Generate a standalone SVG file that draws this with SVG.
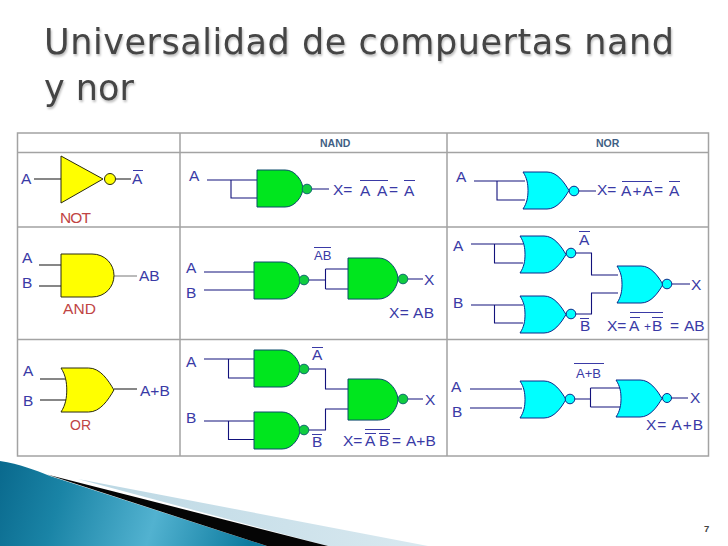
<svg xmlns="http://www.w3.org/2000/svg" width="728" height="546" viewBox="0 0 728 546">
<style>
text{font-family:"Liberation Sans",Arial,sans-serif}
.title{font-family:"DejaVu Sans",Verdana,sans-serif;font-size:35px;fill:#454545;filter:drop-shadow(1px 2px 1px #bbbbbb)}
.t{font-size:15.5px;fill:#3a3aa6}
.s{font-size:13px}
.r{font-size:15.5px;fill:#c04444}
.h{font-size:10.5px;font-weight:bold;fill:#3f5f85}
.pg{font-size:9.5px;font-weight:bold;fill:#444}
.grid{fill:none;stroke:#a3a3a3;stroke-width:1.5}
.w{fill:none;stroke:#12127c;stroke-width:1.1}
.k{fill:none;stroke:#111;stroke-width:1.1}
.bar{stroke:#3a3aa6;stroke-width:1;fill:none}
.yellow{fill:#ffff00;stroke:#2a2a10;stroke-width:1}
.green{fill:#00e61e;stroke:#0b4a6a;stroke-width:1}
.bgreen{fill:#10cc40;stroke:#0b6a6a;stroke-width:1}
.cyan{fill:#00ffff;stroke:#0c2a8a;stroke-width:1}
</style>
<defs>
<path id="nand" d="M0 0H28C37 0 43 8 45 14C46 17 46 20 45 23C43 29 37 37 28 37H0Z" vector-effect="non-scaling-stroke"/>
<path id="nor" d="M0 0H24C34 0 41 10 46 18.5C41 27 34 37 24 37H0C4 31 5 25 5 18.5C5 12 4 6 0 0Z" vector-effect="non-scaling-stroke"/>
<linearGradient id="blue" gradientUnits="userSpaceOnUse" x1="0" y1="470" x2="250" y2="546">
<stop offset="0" stop-color="#0a6a8e"/><stop offset=".25" stop-color="#1a84a6"/><stop offset=".62" stop-color="#52b2d0"/><stop offset="1" stop-color="#0c7a9e"/>
</linearGradient>
<linearGradient id="pale" gradientUnits="userSpaceOnUse" x1="90" y1="482" x2="428" y2="546">
<stop offset="0" stop-color="#bcd8e4"/><stop offset="1" stop-color="#d9e9f0"/>
</linearGradient>
</defs>
<rect width="728" height="546" fill="#fff"/>
<g id="decor">
<path d="M0 461C20 464 35 470 50 476L267 546H0Z" fill="url(#blue)"/>
<path d="M78 479L428 546H328Z" fill="url(#pale)"/>
<path d="M47 474.500L328 546H267Z" fill="#050505"/>
</g>
<g id="title">
<text class="title" x="44" y="54" textLength="630" lengthAdjust="spacing">Universalidad de compuertas nand</text>
<text class="title" x="44" y="100">y nor</text>
</g>
<g id="table">
<rect class="grid" x="17.500" y="133" width="691" height="323"/>
<path class="grid" d="M17.500 152.500H708.500M17.500 227H708.500M17.500 339.500H708.500M180 133V456M447 133V456"/>
<text class="h" x="320" y="147">NAND</text>
<text class="h" x="596" y="147">NOR</text>
</g>
<g id="connectors">
<path class="k" d="M34 179H61M116 179H131M39 265H61M39 286H61M40 379H66M40 400H66M114 389H137"/>
<path d="M114 276H137" fill="none" stroke="#777" stroke-width="1"/>
<path class="w" d="M207 180H257M231 180V198H257M312 189H329"/>
<path class="w" d="M204 272H254M204 290H254M309 280H325.500M325.500 269V289M325.500 269H348M325.500 289H348M408 279H423"/>
<path class="w" d="M204 359H254M228.500 359V378H254M309 369H325.500V389H348M204 421H254M228.500 421V439.500H254M309 430H325.500V409H348M408 399H423"/>
<path class="w" d="M474 181H525M497 181V200H525M579 191H596"/>
<path class="w" d="M471 244H523M494.500 244V263H523M576 253H591.500V275H618M471 305H523M494.500 305V323H523M576 314H591.500V293H618M672 284H690"/>
<path class="w" d="M470 389H522M470 408H522M575 399H590.500M590.500 388V407M590.500 388H620M590.500 407H620M671 398H688"/>
</g>
<g id="not-gate">
<path class="yellow" d="M61 156L103 179L61 203Z"/><circle class="yellow" cx="110" cy="179" r="5.500"/>
<text class="t" x="21" y="184">A</text><text class="t" x="132" y="184">A</text><path class="bar" d="M133 170.500H143"/>
<text class="r" x="60" y="223" textLength="31">NOT</text>
</g>
<g id="and-gate">
<path class="yellow" d="M61 254H92C105 254 114 264 114 275.500C114 287 105 297 92 297H61Z"/>
<text class="t" x="22" y="263">A</text><text class="t" x="22" y="288">B</text><text class="t" x="139" y="281">AB</text>
<text class="r" x="63" y="314" textLength="33">AND</text>
</g>
<g id="or-gate">
<use href="#nor" class="yellow" transform="translate(61 368) scale(1.15 1.19)"/>
<text class="t" x="23" y="376">A</text><text class="t" x="23" y="406">B</text><text class="t" x="140" y="396">A+B</text>
<text class="r" x="70" y="430" style="font-size:14px">OR</text>
</g>
<g id="nand-1">
<use href="#nand" class="green" transform="translate(257 170)"/><circle class="bgreen" cx="307" cy="189" r="4.800"/>
<text class="t" x="189" y="181">A</text>
<text class="t" x="333" y="195">X=</text><text class="t" x="360" y="196">A</text><text class="t" x="377" y="196">A</text><text class="t" x="389" y="195">=</text><text class="t" x="404" y="196">A</text>
<path class="bar" d="M360 180.500H388M404 180.500H415"/>
</g>
<g id="nand-2a">
<use href="#nand" class="green" transform="translate(254 262)"/><circle class="bgreen" cx="304" cy="280" r="4.800"/>
<text class="t" x="186" y="273">A</text><text class="t" x="186" y="298">B</text>
<text class="t s" x="314" y="260">AB</text><path class="bar" d="M314 247.500H331"/>
</g>
<g id="nand-2b">
<use href="#nand" class="green" transform="translate(348 258) scale(1.09 1.11)"/><circle class="bgreen" cx="403" cy="279" r="4.800"/>
<text class="t" x="424" y="285">X</text><text class="t" x="389" y="318" textLength="45">X= AB</text>
</g>
<g id="nand-3a">
<use href="#nand" class="green" transform="translate(254 350)"/><circle class="bgreen" cx="304" cy="369" r="4.800"/>
<text class="t" x="186" y="367">A</text><text class="t" x="312" y="360">A</text><path class="bar" d="M312 347.500H323"/>
</g>
<g id="nand-3b">
<use href="#nand" class="green" transform="translate(254 412)"/><circle class="bgreen" cx="304" cy="430" r="4.800"/>
<text class="t" x="186" y="423">B</text><text class="t" x="312" y="447">B</text><path class="bar" d="M312 434.500H322"/>
</g>
<g id="nand-3c">
<use href="#nand" class="green" transform="translate(348 379) scale(1.09 1.11)"/><circle class="bgreen" cx="403" cy="399" r="4.800"/>
<text class="t" x="425" y="405">X</text>
<text class="t" x="343" y="446">X=</text><text class="t" x="365" y="446">A</text><text class="t" x="379" y="446">B</text><text class="t" x="392" y="446">=</text><text class="t" x="406" y="446">A+B</text>
<path class="bar" d="M365 429.500H390M365 433.500H376M379 433.500H390"/>
</g>
<g id="nor-1">
<use href="#nor" class="cyan" transform="translate(523 172)"/><circle class="cyan" cx="574" cy="191" r="4.800"/>
<text class="t" x="456" y="182">A</text>
<text class="t" x="597" y="195">X=</text><text class="t" x="621" y="196" textLength="32">A+A</text><text class="t" x="654" y="195">=</text><text class="t" x="669" y="196">A</text>
<path class="bar" d="M622 181.500H652M669 181.500H680"/>
</g>
<g id="nor-2a">
<use href="#nor" class="cyan" transform="translate(520 236)"/><circle class="cyan" cx="571" cy="253" r="4.800"/>
<text class="t" x="453" y="251">A</text><text class="t" x="579" y="245">A</text><path class="bar" d="M579 231.500H590"/>
</g>
<g id="nor-2b">
<use href="#nor" class="cyan" transform="translate(520 296)"/><circle class="cyan" cx="571" cy="314" r="4.800"/>
<text class="t" x="453" y="308">B</text><text class="t" x="580" y="331">B</text><path class="bar" d="M580 318.500H589"/>
</g>
<g id="nor-2c">
<use href="#nor" class="cyan" transform="translate(617 266)"/><circle class="cyan" cx="667" cy="284" r="4.800"/>
<text class="t" x="691" y="290">X</text>
<text class="t" x="607" y="331">X=</text><text class="t" x="629" y="331">A</text><text class="t" x="644" y="331" style="font-size:12px">+</text><text class="t" x="652" y="331">B</text><text class="t" x="670" y="331">=</text><text class="t" x="684" y="331">AB</text>
<path class="bar" d="M630 312.500H663M630 317.500H640M652 317.500H663"/>
</g>
<g id="nor-3a">
<use href="#nor" class="cyan" transform="translate(520 381)"/><circle class="cyan" cx="570" cy="399" r="4.800"/>
<text class="t" x="451" y="392">A</text><text class="t" x="452" y="417">B</text>
<text class="t s" x="576" y="378">A+B</text><path class="bar" d="M574 363.500H604"/>
</g>
<g id="nor-3b">
<use href="#nor" class="cyan" transform="translate(616 380)"/><circle class="cyan" cx="667" cy="398" r="4.500"/>
<text class="t" x="690" y="403">X</text><text class="t" x="646" y="430" textLength="57">X= A+B</text>
</g>
<text class="pg" x="704" y="532">7</text>
</svg>
